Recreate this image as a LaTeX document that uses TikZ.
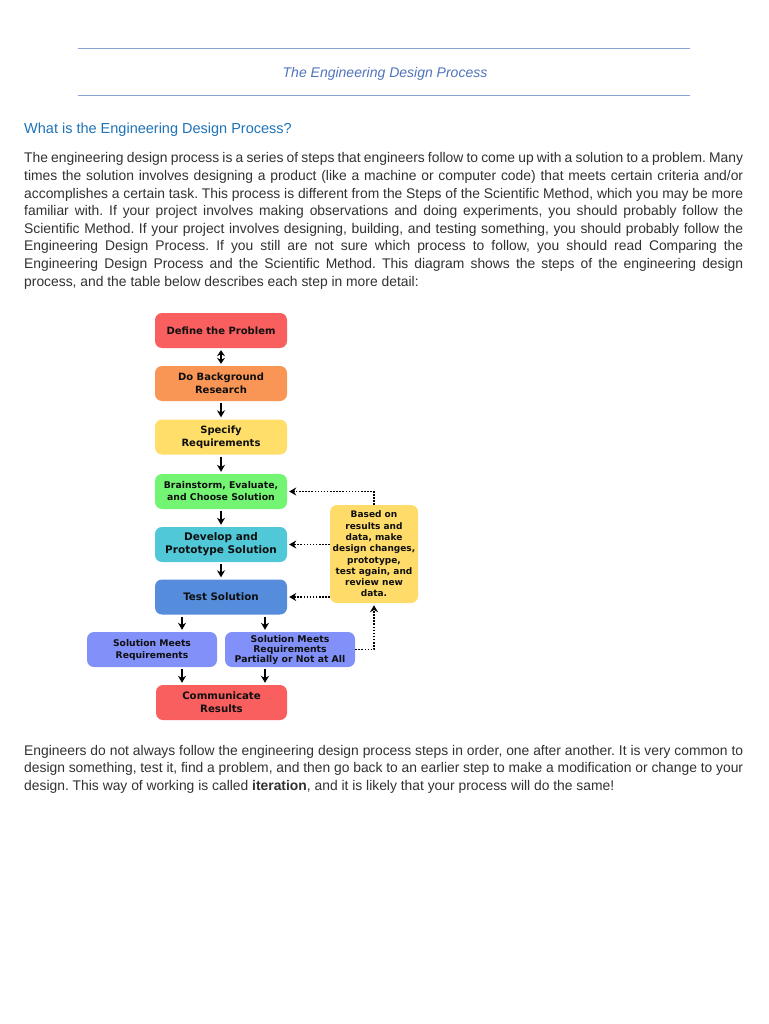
\documentclass[tikz,border=0pt]{standalone}
\usepackage{fontspec}
\setmainfont{Liberation Sans}
\newfontfamily\bodyfont{Liberation Sans}[FakeStretch=0.99]
\newfontfamily\boxfont{DejaVu Sans}
\usetikzlibrary{arrows.meta, positioning, calc}
\definecolor{rulecolor}{RGB}{135, 165, 212}
\definecolor{titleblue}{RGB}{80, 115, 190}
\definecolor{headblue}{RGB}{30, 115, 185}
\definecolor{bodygray}{RGB}{50, 50, 50}
\definecolor{boxtext}{RGB}{15, 15, 15}
\definecolor{probred}{RGB}{250, 95, 95}
\definecolor{resorange}{RGB}{250, 150, 85}
\definecolor{specyellow}{RGB}{255, 222, 105}
\definecolor{brainsgreen}{RGB}{115, 245, 115}
\definecolor{devcyan}{RGB}{80, 200, 215}
\definecolor{testblue}{RGB}{85, 140, 220}
\definecolor{meetsviolet}{RGB}{130, 145, 250}
\definecolor{noteyellow}{RGB}{255, 220, 105}
\tikzset{
  stepbox/.style={rectangle, rounded corners=7pt, minimum width=132pt, minimum height=35pt,
                  align=center, inner sep=1pt, text=boxtext,
                  font=\boxfont\bfseries\fontsize{10}{13}\selectfont},
  arrow/.style={-{Stealth[length=7pt, width=8pt]}, line width=1.8pt, shorten <=2pt, shorten >=2pt},
  loopback/.style={-{Stealth[length=7pt, width=8pt]}, line width=1.6pt,
                   dash pattern=on 1.5pt off 1.6pt, shorten >=2pt},
  bodytext/.style={anchor=north west, inner sep=0pt, text width=719pt, align=justify,
                   text=bodygray, font=\bodyfont\fontsize{14}{17.6}\selectfont\frenchspacing}
}
\begin{document}
\begin{tikzpicture}[x=1pt, y=-1pt]
\fill[white] (0,0) rectangle (768,1024);
\useasboundingbox (0,0) rectangle (768,1024);

% Page header
\coordinate (rulea) at (78,49);
\coordinate (ruleb) at (78,96);
\draw[rulecolor, line width=1pt] (rulea) -- ++(612,0);
\draw[rulecolor, line width=1pt] (ruleb) -- ++(612,0);
\node[font=\itshape\fontsize{14}{16}\selectfont, titleblue] (title) at (385,73.5) {The Engineering Design Process};

% Heading and first paragraph
\node[anchor=west, font=\fontsize{14.5}{17}\selectfont, headblue, inner sep=0pt] (heading) at (24,129.5)
  {What is the Engineering Design Process?};
\node[bodytext] (intro) at (24,152.5) {%
The engineering design process is a series of steps that engineers follow to come up with a solution to a problem. Many\linebreak
times the solution involves designing a product (like a machine or computer code) that meets certain criteria and/or\linebreak
accomplishes a certain task. This process is different from the Steps of the Scientific Method, which you may be more\linebreak
familiar with. If your project involves making observations and doing experiments, you should probably follow the\linebreak
Scientific Method. If your project involves designing, building, and testing something, you should probably follow the\linebreak
Engineering Design Process. If you still are not sure which process to follow, you should read Comparing the\linebreak
Engineering Design Process and the Scientific Method. This diagram shows the steps of the engineering design\linebreak
process, and the table below describes each step in more detail:};

% Process steps
\node[stepbox, fill=probred] (define) at (221,330.5) {Define the Problem};
\node[stepbox, fill=resorange] (research) at (221,383.5) {Do Background\\Research};
\node[stepbox, fill=specyellow] (specify) at (221,437) {Specify\\Requirements};
\node[stepbox, fill=brainsgreen, font=\boxfont\bfseries\fontsize{9.3}{12}\selectfont] (brainstorm) at (221,491.5) {Brainstorm, Evaluate,\\and Choose Solution};
\node[stepbox, fill=devcyan, font=\boxfont\bfseries\fontsize{10.5}{13}\selectfont] (develop) at (221,544.5) {Develop and\\Prototype Solution};
\node[stepbox, fill=testblue, font=\boxfont\bfseries\fontsize{10.3}{13}\selectfont] (test) at (221,597) {Test Solution};
\node[stepbox, fill=meetsviolet, minimum width=130pt, font=\boxfont\bfseries\fontsize{9.2}{12}\selectfont] (meets) at (152,649.5) {Solution Meets\\Requirements};
\node[stepbox, fill=meetsviolet, minimum width=130pt, font=\boxfont\bfseries\fontsize{9.3}{10}\selectfont] (partial) at (290,649.5)
  {Solution Meets\\Requirements\\Partially or Not at All};
\node[stepbox, fill=probred, minimum width=131pt, font=\boxfont\bfseries\fontsize{10.2}{13}\selectfont] (communicate) at (221.5,702.5) {Communicate\\Results};

% Iteration note
\node[stepbox, fill=noteyellow, minimum width=88pt, minimum height=98pt, inner sep=0pt,
      font=\boxfont\bfseries\fontsize{9}{11.3}\selectfont] (note) at (374,554)
  {Based on\\results and\\data, make\\design changes,\\prototype,\\test again, and\\review new\\data.};

% Main flow
\draw[arrow, {Stealth[length=6pt, width=8pt]}-{Stealth[length=6pt, width=8pt]}] (define) -- (research);
\draw[arrow] (research) -- (specify);
\draw[arrow] (specify) -- (brainstorm);
\draw[arrow] (brainstorm) -- (develop);
\draw[arrow] (develop) -- (test);
\draw[arrow] ([xshift=-39pt]test.south) -- ([xshift=-39pt]test.south |- meets.north);
\draw[arrow] ([xshift=44pt]test.south) -- ([xshift=44pt]test.south |- partial.north);
\draw[arrow] ([xshift=30pt]meets.south) -- ([xshift=30pt]meets.south |- communicate.north);
\draw[arrow] ([xshift=-25pt]partial.south) -- ([xshift=-25pt]partial.south |- communicate.north);

% Iteration loops
\draw[loopback] (partial.east) -| (note.south);
\draw[loopback] (note.north) |- (brainstorm.east);
\draw[loopback] (note.west |- develop.east) -- (develop.east);
\draw[loopback] (note.west |- test.east) -- (test.east);

% Closing paragraph
\node[bodytext] (closing) at (24,745) {%
Engineers do not always follow the engineering design process steps in order, one after another. It is very common to\linebreak
design something, test it, find a problem, and then go back to an earlier step to make a modification or change to your\linebreak
design. This way of working is called \textbf{iteration}, and it is likely that your process will do the same!};

\end{tikzpicture}
\end{document}
